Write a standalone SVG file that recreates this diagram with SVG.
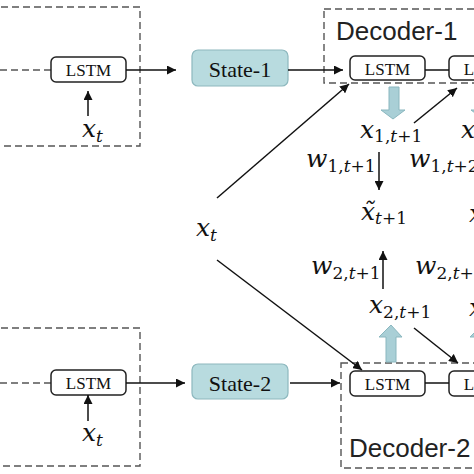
<svg xmlns="http://www.w3.org/2000/svg" width="474" height="474" viewBox="0 0 474 474">
<defs>
<marker id="ah" viewBox="0 0 10 10" refX="10" refY="5" markerWidth="9" markerHeight="9" markerUnits="userSpaceOnUse" orient="auto">
<path d="M0,0 L10,5 L0,10 z" fill="#111"/>
</marker>
<style>
.dash{fill:none;stroke:#555;stroke-width:1.4;stroke-dasharray:7,4}
.lstm rect{fill:#fff;stroke:#222;stroke-width:1.5}
.lt{font-family:"Liberation Serif",serif;font-size:17px;fill:#111;text-anchor:middle}
.st rect{fill:#b8dbdf;stroke:#8db8be;stroke-width:1.2}
.stt{font-family:"Liberation Serif",serif;font-size:22px;fill:#111;text-anchor:middle}
.dec{font-family:"Liberation Sans",Arial,sans-serif;font-size:26px;fill:#222}
.m{font-family:"DejaVu Serif",serif;font-style:italic;font-size:25px;fill:#111}
.s{font-family:"DejaVu Serif",serif;font-style:normal;font-size:17px}
.si{font-family:"DejaVu Serif",serif;font-style:italic;font-size:17px}
.c{stroke:#111;stroke-width:1.5;fill:none}
.ca{stroke:#111;stroke-width:1.5;fill:none;marker-end:url(#ah)}
.blk{fill:#a9cfd6;stroke:#8ab7bf;stroke-width:1}
</style>
</defs>

<g id="encoder-1">
<rect class="dash" x="-10" y="7" width="150" height="139"/>
<line class="dash" x1="0" y1="70" x2="51" y2="70"/>
<g class="lstm"><rect x="51" y="57" width="75" height="25" rx="5"/></g>
<text class="lt" x="88.5" y="76">LSTM</text>
<text class="m" x="82" y="137">x<tspan class="si" dy="5">t</tspan></text>
</g>

<g id="encoder-2">
<rect class="dash" x="-10" y="328" width="150" height="138"/>
<line class="dash" x1="0" y1="383" x2="51" y2="383"/>
<g class="lstm"><rect x="51" y="370" width="75" height="25" rx="5"/></g>
<text class="lt" x="88.5" y="389">LSTM</text>
<text class="m" x="82" y="441">x<tspan class="si" dy="5">t</tspan></text>
</g>

<g id="state-1" class="st">
<rect x="192" y="50" width="96" height="36" rx="6"/>
<text class="stt" x="240" y="77">State-1</text>
</g>
<g id="state-2" class="st">
<rect x="192" y="364" width="96" height="35" rx="6"/>
<text class="stt" x="240" y="391">State-2</text>
</g>

<g id="decoder-1">
<rect class="dash" x="324" y="9" width="200" height="74"/>
<text class="dec" x="336" y="40">Decoder-1</text>
<g class="lstm"><rect x="350" y="56" width="75" height="24" rx="5"/><rect x="449" y="56" width="75" height="24" rx="5"/></g>
<text class="lt" x="387.5" y="75">LSTM</text>
<text class="lt" x="486.5" y="75">LSTM</text>
</g>

<g id="decoder-2">
<rect class="dash" x="341" y="363" width="200" height="105"/>
<text class="dec" x="349" y="457">Decoder-2</text>
<g class="lstm"><rect x="350" y="371" width="75" height="25" rx="5"/><rect x="449" y="371" width="75" height="25" rx="5"/></g>
<text class="lt" x="387.5" y="390">LSTM</text>
<text class="lt" x="486.5" y="390">LSTM</text>
</g>

<g id="x-mid"><text class="m" x="196" y="236">x<tspan class="si" dy="5">t</tspan></text></g>

<g id="out-1">
<path class="blk" d="M389,87 H399 V110 H405 L393,119 L381,110 H389 Z"/>
<path class="blk" d="M478,87 H488 V110 H495 L483,119 L471,110 H478 Z"/>
<text class="m" x="360" y="138">x<tspan class="s" dy="4">1,</tspan><tspan class="si">t</tspan><tspan class="s">+1</tspan></text>
<text class="m" x="461" y="138">x<tspan class="s" dy="4">1,</tspan><tspan class="si">t</tspan><tspan class="s">+2</tspan></text>
<text class="m" x="306" y="167">w<tspan class="s" dy="5">1,</tspan><tspan class="si">t</tspan><tspan class="s">+1</tspan></text>
<text class="m" x="409" y="167">w<tspan class="s" dy="5">1,</tspan><tspan class="si">t</tspan><tspan class="s">+2</tspan></text>
</g>

<g id="out-merged">
<text class="m" x="361" y="220">x̃<tspan class="si" dy="4">t</tspan><tspan class="s">+1</tspan></text>
<text class="m" x="469" y="222">x̃<tspan class="si" dy="4">t</tspan><tspan class="s">+2</tspan></text>
</g>

<g id="out-2">
<path class="blk" d="M386,362 H396 V337 H402 L391,325 L379,337 H386 Z"/>
<path class="blk" d="M477,362 H487 V337 H493 L482,325 L470,337 H477 Z"/>
<text class="m" x="369" y="313">x<tspan class="s" dy="5">2,</tspan><tspan class="si">t</tspan><tspan class="s">+1</tspan></text>
<text class="m" x="469" y="316">x<tspan class="s" dy="5">2,</tspan><tspan class="si">t</tspan><tspan class="s">+2</tspan></text>
<text class="m" x="311" y="274">w<tspan class="s" dy="5">2,</tspan><tspan class="si">t</tspan><tspan class="s">+1</tspan></text>
<text class="m" x="415" y="274">w<tspan class="s" dy="5">2,</tspan><tspan class="si">t</tspan><tspan class="s">+2</tspan></text>
</g>

<g id="connectors">
<line class="ca" x1="126" y1="70" x2="176" y2="70"/>
<line class="ca" x1="126" y1="383" x2="185" y2="383"/>
<line class="ca" x1="88" y1="116" x2="88" y2="91"/>
<line class="ca" x1="88" y1="421" x2="88" y2="395"/>
<line class="ca" x1="288" y1="70" x2="343" y2="70"/>
<line class="ca" x1="290" y1="383" x2="340" y2="383"/>
<line class="c" x1="425" y1="70" x2="449" y2="70"/>
<line class="c" x1="425" y1="383" x2="449" y2="383"/>
<line class="ca" x1="217" y1="198" x2="349" y2="84"/>
<line class="ca" x1="217" y1="260" x2="362" y2="370"/>
<line class="ca" x1="414" y1="123" x2="457" y2="88"/>
<line class="ca" x1="414" y1="328" x2="458" y2="363"/>
<line class="ca" x1="379" y1="152" x2="379" y2="190"/>
<line class="ca" x1="383" y1="289" x2="383" y2="251"/>
</g>
</svg>
